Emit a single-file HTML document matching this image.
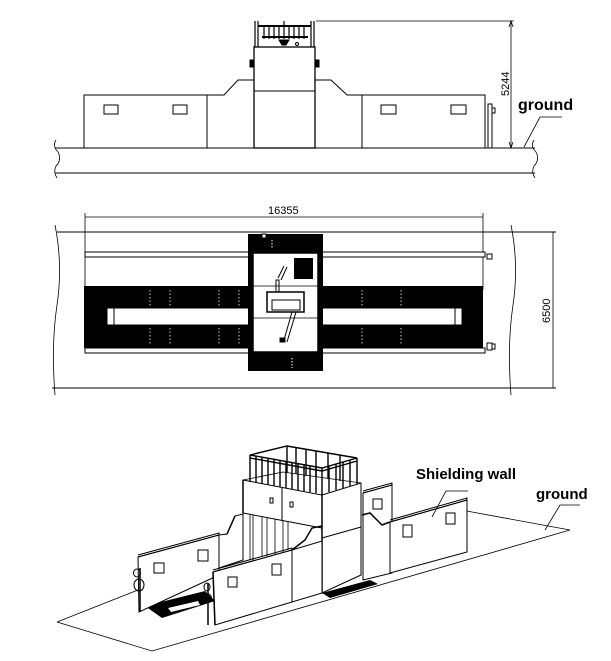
<!DOCTYPE html>
<html><head><meta charset="utf-8"><style>
html,body{margin:0;padding:0;background:#fff}
svg{display:block}
.t{font-family:"Liberation Sans",sans-serif}
</style></head><body>
<svg width="611" height="661" viewBox="0 0 611 661" xmlns="http://www.w3.org/2000/svg" fill="none" stroke="#000" stroke-width="1">
<!-- ===== ELEVATION ===== -->
<line x1="55" y1="148" x2="535" y2="148"/>
<line x1="55" y1="173" x2="535" y2="173"/>
<path d="M56 140 q-4 6 2 12 q4 8 -2 14 q-3 6 1 12" stroke-width="0.8"/>
<path d="M534 140 q-4 6 2 12 q4 8 -2 14 q-3 6 1 12" stroke-width="0.8"/>
<rect x="84" y="95" width="123" height="53"/>
<rect x="104" y="105" width="14" height="9"/><rect x="173" y="105" width="14" height="9"/>
<path d="M207 95 H224 L238 80 H254"/>
<rect x="254" y="47" width="61" height="101" stroke-width="1.3"/>
<line x1="254" y1="91" x2="315" y2="91"/>
<rect x="250" y="60" width="4" height="7" fill="#000"/><rect x="315" y="60" width="4" height="7" fill="#000"/>
<g stroke-width="1.2">
<line x1="255" y1="21" x2="255" y2="47"/><line x1="258" y1="21" x2="258" y2="47"/>
<line x1="311" y1="21" x2="311" y2="47"/><line x1="314" y1="21" x2="314" y2="47"/>
<line x1="258" y1="26" x2="311" y2="26" stroke-width="2"/>
<line x1="264" y1="26" x2="264" y2="39"/><line x1="269" y1="26" x2="269" y2="39"/><line x1="274" y1="26" x2="274" y2="39"/><line x1="279" y1="26" x2="279" y2="39"/><line x1="284" y1="21" x2="284" y2="39"/><line x1="289" y1="26" x2="289" y2="39"/><line x1="294" y1="26" x2="294" y2="39"/><line x1="299" y1="26" x2="299" y2="39"/><line x1="304" y1="26" x2="304" y2="39"/>
<line x1="262" y1="37" x2="308" y2="37" stroke-width="2"/>
</g>
<path d="M279 40 h10 l-3 5 h-4 z" fill="#000"/><circle cx="297" cy="44" r="1.5"/>
<path d="M315 80 H331 L347 95 H362"/>
<rect x="362" y="95" width="123" height="53"/>
<rect x="381" y="105" width="15" height="9"/><rect x="451" y="105" width="15" height="9"/>
<rect x="488" y="104" width="4" height="44"/><rect x="492" y="108" width="3" height="5"/>
<line x1="316" y1="21" x2="514" y2="21" stroke-width="0.8"/>
<line x1="511" y1="21" x2="511" y2="148" stroke-width="0.8"/>
<path d="M509 27 L511 21 L513 27 M509 142 L511 148 L513 142" stroke-width="0.8"/>
<text class="t" x="0" y="0" transform="translate(509,96) rotate(-90)" font-size="11" fill="#000" stroke="none">5244</text>
<text class="t" x="518" y="110" font-size="16" font-weight="bold" fill="#000" stroke="none">ground</text>
<path d="M562 117 H540 L524 147" stroke-width="0.8"/>

<!-- ===== PLAN ===== -->
<line x1="85" y1="217" x2="483" y2="217" stroke-width="0.8"/>
<line x1="85" y1="213" x2="85" y2="290" stroke-width="0.8"/><line x1="483" y1="213" x2="483" y2="290" stroke-width="0.8"/>
<text class="t" x="268" y="214" font-size="11" fill="#000" stroke="none">16355</text>
<line x1="57" y1="232" x2="556" y2="232"/>
<line x1="52" y1="388" x2="556" y2="388"/>
<path d="M55 225 q8 40 2 80 q-6 40 -2 90" stroke-width="0.8"/>
<path d="M511 225 q8 40 2 80 q-6 40 -2 90" stroke-width="0.8"/>
<line x1="553" y1="232" x2="553" y2="388" stroke-width="0.8"/>
<text class="t" x="0" y="0" transform="translate(550,323) rotate(-90)" font-size="11" fill="#000" stroke="none">6500</text>
<rect x="84" y="286" width="399" height="62" fill="#000" stroke="none"/>
<rect x="107" y="308" width="355" height="17" fill="#fff" stroke="#000"/>
<line x1="114" y1="308" x2="114" y2="325"/><line x1="455" y1="308" x2="455" y2="325"/>
<rect x="85" y="252" width="400" height="5" fill="#fff"/>
<rect x="85" y="348" width="400" height="5" fill="#fff"/>
<rect x="487" y="254" width="5" height="5"/><rect x="487" y="343" width="5" height="7"/><rect x="492" y="344" width="3" height="5"/>
<g stroke="#fff" stroke-dasharray="1.5 2" stroke-width="0.8">
<line x1="150" y1="290" x2="150" y2="306"/><line x1="170" y1="290" x2="170" y2="306"/><line x1="219" y1="290" x2="219" y2="306"/><line x1="239" y1="290" x2="239" y2="306"/>
<line x1="150" y1="328" x2="150" y2="345"/><line x1="170" y1="328" x2="170" y2="345"/><line x1="219" y1="328" x2="219" y2="345"/><line x1="239" y1="328" x2="239" y2="345"/>
<line x1="362" y1="290" x2="362" y2="306"/><line x1="401" y1="290" x2="401" y2="306"/><line x1="362" y1="328" x2="362" y2="345"/><line x1="401" y1="328" x2="401" y2="345"/>
</g>
<rect x="248" y="234" width="75" height="137" fill="#000" stroke="none"/>
<rect x="253" y="253" width="65" height="99" fill="#fff" stroke="#000" stroke-width="1.5"/>
<rect x="294" y="258" width="19" height="21" fill="#000" stroke="none"/>
<rect x="267" y="292" width="37" height="20" fill="#fff" stroke="#000" stroke-width="1.5"/>
<rect x="272" y="300" width="28" height="10"/>
<path d="M276 292 v-12 h3 v12 M278 278 l6 -12 M281 280 l6 -13"/>
<path d="M292 312 l-8 28 M296 312 l-9 30"/>
<rect x="280" y="338" width="5" height="4" fill="#000"/>
<line x1="253" y1="286" x2="318" y2="286" stroke-width="0.7"/>
<line x1="253" y1="318" x2="318" y2="318" stroke-width="0.7"/>
<rect x="262" y="234" width="4" height="4" fill="#fff"/>
<line x1="272" y1="240" x2="272" y2="248" stroke="#fff" stroke-dasharray="1.5 1.5"/>
<line x1="292" y1="358" x2="292" y2="368" stroke="#fff" stroke-dasharray="1.5 1.5"/>

<!-- ===== ISOMETRIC ===== -->
<path d="M57 622 L152 651 L570 530 L472 512" stroke-width="0.8"/>
<path d="M57 622 L138 590" stroke-width="0.8"/>
<path d="M472 512 L467 511" stroke-width="0.8"/>
<!-- black strips -->
<path d="M145 606 L205 591 L215 601 L162 618 Z" fill="#000" stroke="none"/>
<path d="M168 608 L198 601 L200 605 L171 612 Z" fill="#fff" stroke="none"/>
<path d="M322 593 L370 580 L378 584 L330 598 Z" fill="#000" stroke="none"/>
<!-- left back wall -->
<path d="M138 557 L219 535 L219 575 L139 612 Z" fill="#fff"/>
<path d="M138 557 L219 535 L219 533 L138 555" />
<rect x="154" y="563" width="10" height="10"/><rect x="198" y="550" width="10" height="11"/>
<!-- tower inner opening -->
<path d="M219 535 L227 534 L235 516 L243 514 L243 560 L219 568 Z" fill="#fff"/>
<path d="M227 534 L235 516" stroke-width="1.5"/>
<g stroke-width="0.8">
<line x1="250" y1="514" x2="250" y2="560"/><line x1="253" y1="514" x2="253" y2="560"/><line x1="262" y1="516" x2="262" y2="557"/><line x1="267" y1="517" x2="267" y2="556"/><line x1="275" y1="519" x2="275" y2="554"/><line x1="283" y1="521" x2="283" y2="552"/><line x1="288" y1="522" x2="288" y2="550"/>
</g>
<!-- tower front face -->
<path d="M243 480 L322 495 L322 528 L243 513 Z" fill="#fff"/>
<line x1="243" y1="480" x2="243" y2="513" stroke-width="1.5"/>
<line x1="282" y1="487" x2="282" y2="521"/>
<rect x="270" y="498" width="3" height="5"/><rect x="290" y="502" width="3" height="5"/>
<!-- tower right face -->
<path d="M322 495 L361 483 L361 575 L322 593 Z" fill="#fff"/>
<line x1="322" y1="495" x2="322" y2="593" stroke-width="1.5"/>
<line x1="322" y1="538" x2="361" y2="527"/>
<path d="M243 480 L283 472 L361 483" stroke-width="0.8"/>
<!-- railing -->
<g stroke-width="1.4">
<path d="M250 455 L322 468 L357 458 L287 446 Z"/>
<path d="M250 458 L322 471 L357 461"/>
<line x1="250" y1="455" x2="250" y2="482"/><line x1="322" y1="468" x2="322" y2="495"/><line x1="357" y1="458" x2="357" y2="484"/><line x1="287" y1="446" x2="287" y2="473"/>
<line x1="256" y1="456" x2="256" y2="483"/><line x1="262" y1="457" x2="262" y2="484"/><line x1="268" y1="458" x2="268" y2="485"/><line x1="274" y1="459" x2="274" y2="486"/><line x1="280" y1="460" x2="280" y2="487"/><line x1="286" y1="461" x2="286" y2="488"/><line x1="292" y1="463" x2="292" y2="489"/><line x1="298" y1="464" x2="298" y2="490"/><line x1="304" y1="465" x2="304" y2="491"/><line x1="310" y1="466" x2="310" y2="492"/><line x1="316" y1="467" x2="316" y2="493"/>
<line x1="329" y1="466" x2="329" y2="492"/><line x1="336" y1="464" x2="336" y2="490"/><line x1="343" y1="462" x2="343" y2="488"/><line x1="350" y1="460" x2="350" y2="486"/>
<line x1="296" y1="448" x2="296" y2="474"/><line x1="306" y1="449" x2="306" y2="476"/><line x1="316" y1="451" x2="316" y2="477"/><line x1="328" y1="453" x2="328" y2="479"/><line x1="340" y1="455" x2="340" y2="481"/>
</g>
<!-- inner right slope -->
<path d="M292 550 L305 540 L312 528 L322 526" stroke-width="1.5"/>
<!-- front wall -->
<path d="M213 572 L292 550 L292 602 L215 625 Z" fill="#fff"/>
<path d="M213 572 L292 550 L292 548 L213 570" />
<path d="M292 550 L322 541 L322 593 L292 602 Z" fill="#fff"/>
<line x1="292" y1="550" x2="292" y2="602"/>
<line x1="213" y1="572" x2="215" y2="625" stroke-width="1.5"/>
<rect x="228" y="577" width="9" height="10"/><rect x="272" y="564" width="9" height="11"/>
<!-- right panels -->
<path d="M363 493 L392 485 L392 573 L363 580 Z" fill="#fff"/>
<path d="M363 493 L392 485 L392 483 L363 491"/>
<rect x="373" y="499" width="9" height="10"/>
<path d="M362 515 L370 513 L382 525 L390 522" stroke-width="1.5"/>
<path d="M390 522 L467 500 L467 552 L390 573 Z" fill="#fff"/>
<path d="M390 522 L467 500 L467 498 L390 520"/>
<rect x="403" y="525" width="9" height="12"/><rect x="446" y="513" width="9" height="11"/>
<!-- posts/signs -->
<line x1="140" y1="568" x2="140" y2="612" stroke-width="1.5"/>
<ellipse cx="137" cy="573" rx="3.5" ry="4"/><ellipse cx="139" cy="585" rx="5" ry="6"/>
<line x1="208" y1="583" x2="208" y2="625" stroke-width="1.5"/>
<ellipse cx="207" cy="587" rx="3" ry="4"/><ellipse cx="208" cy="598" rx="3.5" ry="4"/>
<!-- labels -->
<text class="t" x="416" y="479" font-size="15" font-weight="bold" fill="#000" stroke="none">Shielding wall</text>
<path d="M468 491 H446 L432 517" stroke-width="0.8"/>
<text class="t" x="536" y="499" font-size="15" font-weight="bold" fill="#000" stroke="none">ground</text>
<path d="M580 505 H560 L545 530" stroke-width="0.8"/>
</svg>
</body></html>
